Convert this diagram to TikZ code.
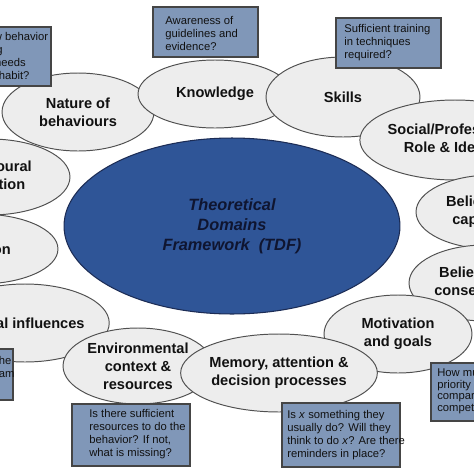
\documentclass[tikz,border=0pt]{standalone}
\usepackage{fontspec}
\setmainfont{Liberation Sans}
\usetikzlibrary{shapes.geometric}
\definecolor{ovalfill}{HTML}{EDEDED}
\definecolor{ovalline}{HTML}{505050}
\definecolor{corefill}{HTML}{2F5597}
\definecolor{coreline}{HTML}{1C2C55}
\definecolor{coretext}{HTML}{0F1530}
\definecolor{boxfill}{HTML}{8097B8}
\definecolor{boxline}{HTML}{454545}
\definecolor{labeltext}{HTML}{111111}
\newcommand{\ovalfont}{\fontsize{8.3}{10.2}\selectfont\bfseries}
\newcommand{\corefont}{\fontsize{9.3}{11.3}\selectfont\bfseries\itshape}
\newcommand{\qfont}{\fontsize{6.4}{7.4}\selectfont}
\begin{document}
\begin{tikzpicture}[x=0.02cm,y=-0.02cm,
  oval/.style={ellipse, draw=ovalline, fill=ovalfill, line width=0.55pt,
    inner sep=0pt, outer sep=0pt, font=\ovalfont, align=center, text=labeltext},
  core/.style={ellipse, draw=coreline, fill=corefill, line width=0.6pt,
    inner sep=0pt, outer sep=0pt, font=\corefont, align=center, text=coretext},
  qbox/.style={draw=boxline, fill=boxfill, line width=0.6pt},
  qtext/.style={anchor=west, inner sep=0pt, font=\qfont, align=left, text=labeltext}]
\useasboundingbox (0,0) rectangle (474,474);
\clip (0,0) rectangle (474,474);
\fill[white] (0,0) rectangle (474,474);

% ovals
\node[oval, minimum width=3.2cm, minimum height=1.52cm] (behreg) at (-10,177) {Behavioural\\regulation};
\node[oval, minimum width=3.04cm, minimum height=1.56cm] (nature) at (78,112) {Nature of\\behaviours};
\node[oval, minimum width=3.08cm, minimum height=1.36cm] (know) at (215,94) {Knowledge};
\node[oval, minimum width=3.08cm, minimum height=1.6cm] (skills) at (343,97) {Skills};
\node[oval, minimum width=3.2cm, minimum height=1.6cm] (role) at (455,140) {Social/Professional\\Role \& Identity};
\node[oval, minimum width=3.04cm, minimum height=1.48cm] (bcap) at (492,212) {Beliefs about\\capabilities};
\node[oval, minimum width=3.04cm, minimum height=1.52cm] (bcon) at (485,283) {Beliefs about\\consequences};
\node[oval, minimum width=3.12cm, minimum height=1.4cm] (intent) at (-20,249) {Intention};
\node[oval, minimum width=3.32cm, minimum height=1.56cm] (social) at (25,323) {Social influences};
\node[oval, minimum width=3.0cm, minimum height=1.52cm] (env) at (138,366) {Environmental\\context \&\\resources};
\node[oval, minimum width=2.96cm, minimum height=1.56cm] (motiv) at (398,334) {Motivation\\and goals};
\node[oval, minimum width=3.0cm, minimum height=1.56cm] (memory) at (279,373) {Memory, attention \&\\decision processes};

% central ellipse
\node[core, minimum width=6.72cm, minimum height=3.52cm] (tdf) at (232,226) {Theoretical\\Domains\\Framework\ \ (TDF)};

% question boxes
\draw[qbox] (-60,27) rectangle (51,86);
\node[qtext] (qnature) at (-49,56) {Is it a new behavior\\or existing\\one that needs\\to form a habit?};

\draw[qbox] (153,7) rectangle (258,57);
\node[qtext] (qknow) at (165,33.5) {Awareness of\\guidelines and\\evidence?};

\draw[qbox] (336,18) rectangle (441,68);
\node[qtext] (qskills) at (344,42.5) {Sufficient training\\in techniques\\required?};

\draw[qbox] (-95,349) rectangle (13,400);
\node[qtext] (qsocial) at (-72,373.5) {Do others do the\\same in the team\\or is it new?};

\draw[qbox] (72,404) rectangle (190,466);
\node[qtext] (qenv) at (89,434.5) {Is there sufficient\\resources to do the\\behavior? If not,\\what is missing?};

\draw[qbox] (282,403) rectangle (400,467);
\node[qtext] (qmem) at (287,435) {Is \textit{x} something they\\usually do? Will they\\think to do \textit{x}? Are there\\reminders in place?};

\draw[qbox] (431,363) rectangle (540,421);
\node[qtext, font=\fontsize{6.4}{6.6}\selectfont] (qmotiv) at (437,391) {How much of a\\priority is \textit{x}\\compared to\\competing tasks?};
\end{tikzpicture}
\end{document}
